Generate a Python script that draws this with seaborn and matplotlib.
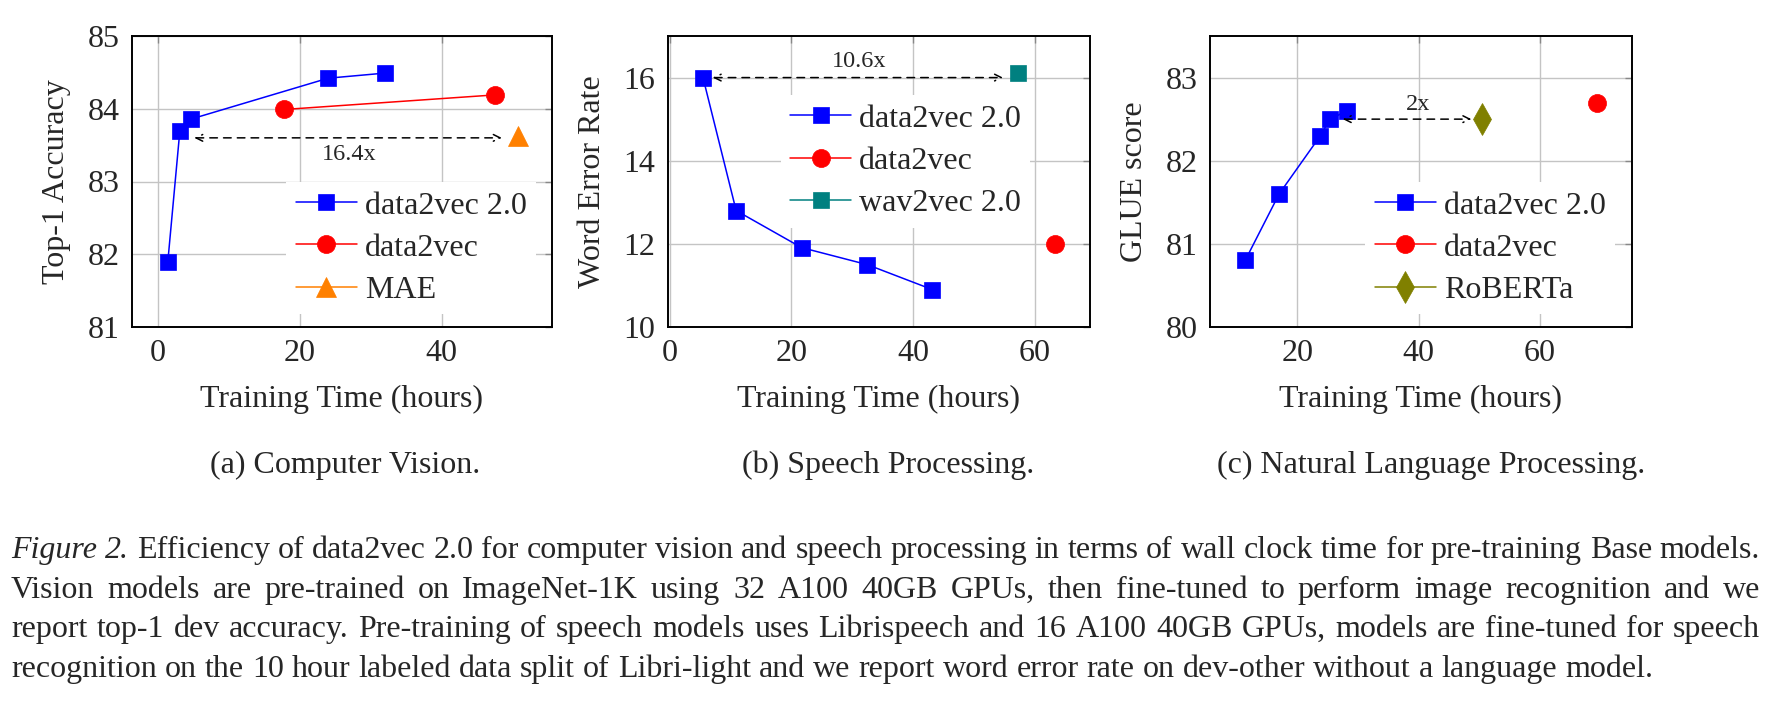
import numpy as np
import pandas as pd
import matplotlib.pyplot as plt
import seaborn as sns

# (a) computer vision: training hours vs top-1 accuracy
cv_d2v2_hours = [1.35, 3.05, 4.7, 24.0, 32.0]
cv_d2v2_acc = [81.89, 83.69, 83.86, 84.42, 84.49]
cv_d2v_hours = [17.8, 47.5]
cv_d2v_acc = [83.99, 84.19]
cv_mae_hours = [50.8]
cv_mae_acc = [83.63]

# (b) speech: training hours vs word error rate
sp_d2v2_hours = [5.5, 10.95, 21.7, 32.5, 43.2]
sp_d2v2_wer = [16.0, 12.8, 11.91, 11.5, 10.9]
sp_d2v_hours = [63.3]
sp_d2v_wer = [12.0]
sp_w2v_hours = [57.2]
sp_w2v_wer = [16.1]

# (c) NLP: training hours vs GLUE score
nlp_d2v2_hours = [11.4, 17.0, 23.8, 25.4, 28.2]
nlp_d2v2_glue = [80.8, 81.6, 82.3, 82.5, 82.6]
nlp_d2v_hours = [69.4]
nlp_d2v_glue = [82.7]
nlp_rob_hours = [50.5]
nlp_rob_glue = [82.5]

speedups = ["16.4x", "10.6x", "2x"]
subcaptions = ["(a) Computer Vision.", "(b) Speech Processing.",
               "(c) Natural Language Processing."]
caption_lines = [
    "Figure 2. Efficiency of data2vec 2.0 for computer vision and speech processing in terms of wall clock time for pre-training Base models.",
    "Vision models are pre-trained on ImageNet-1K using 32 A100 40GB GPUs, then fine-tuned to perform image recognition and we",
    "report top-1 dev accuracy. Pre-training of speech models uses Librispeech and 16 A100 40GB GPUs, models are fine-tuned for speech",
    "recognition on the 10 hour labeled data split of Libri-light and we report word error rate on dev-other without a language model.",
]

BLUE = "#0000ff"
RED = "#ff0000"
ORANGE = "#ff8000"
TEAL = "#008080"
OLIVE = "#808000"
FS = 23

sns.set_theme(style="whitegrid")
plt.rcParams["font.family"] = ["Liberation Serif", "DejaVu Serif"]

fig = plt.figure(figsize=(17.9, 7.09), dpi=100)
W, H = 1790, 709


def add_axes(left, right, top=36, bottom=327):
    return fig.add_axes([left / W, 1 - bottom / H, (right - left) / W, (bottom - top) / H])


def series(ax, x, y, label, color, marker, ms=12):
    sns.lineplot(x=x, y=y, ax=ax, label=label, color=color, marker=marker,
                 markersize=ms, markeredgecolor=color, markeredgewidth=0.5,
                 linewidth=1.1, estimator=None, sort=False)


def style(ax, xticks, yticks, xlim, ylim, ylabel):
    ax.set_xlim(*xlim)
    ax.set_ylim(*ylim)
    ax.set_xticks(xticks)
    ax.set_yticks(yticks)
    ax.grid(True, color="#c4c4c4", linewidth=1.0)
    for s in ax.spines.values():
        s.set_color("black")
        s.set_linewidth(1.4)
    ax.tick_params(axis="both", labelsize=FS, pad=9, direction="in",
                   length=5, width=1, color="#888888", top=True, right=True)
    ax.set_xlabel("Training Time (hours)", fontsize=FS, labelpad=12)
    ax.set_ylabel(ylabel, fontsize=FS, labelpad=12)


def legend(ax, cx, cy):
    ax.legend(loc="center", bbox_to_anchor=(cx, cy), fontsize=FS, frameon=True,
              facecolor="white", edgecolor="none", framealpha=1, handlelength=1.9,
              handletextpad=0.25, labelspacing=0.4, borderpad=0.3, fancybox=False)


def speedup(ax, x0, x1, y, text, tx, ty):
    ax.annotate("", xy=(x1, y), xytext=(x0, y),
                arrowprops=dict(arrowstyle="<->", linestyle=(0, (5, 4)),
                                color="black", lw=1.1, shrinkA=0, shrinkB=0))
    ax.text(tx, ty, text, fontsize=17.5, ha="center", va="center")


# (a)
ax1 = add_axes(132, 552)
series(ax1, cv_d2v2_hours, cv_d2v2_acc, "data2vec 2.0", BLUE, "s")
series(ax1, cv_d2v_hours, cv_d2v_acc, "data2vec", RED, "o", 13)
series(ax1, cv_mae_hours, cv_mae_acc, "MAE", ORANGE, "^", 14)
speedup(ax1, 5.1, 48.5, 83.6, speedups[0], 27.0, 83.37)
style(ax1, [0, 20, 40], [81, 82, 83, 84, 85], (-3.7, 55.6), (81, 85), "Top-1 Accuracy")
legend(ax1, 0.665, 0.2715)

# (b)
ax2 = add_axes(668, 1090)
series(ax2, sp_d2v2_hours, sp_d2v2_wer, "data2vec 2.0", BLUE, "s")
series(ax2, sp_d2v_hours, sp_d2v_wer, "data2vec", RED, "o", 13)
series(ax2, sp_w2v_hours, sp_w2v_wer, "wav2vec 2.0", TEAL, "s")
speedup(ax2, 7.1, 54.8, 16.0, speedups[1], 31.2, 16.38)
style(ax2, [0, 20, 40, 60], [10, 12, 14, 16], (-0.25, 69.1), (10, 17), "Word Error Rate")
legend(ax2, 0.563, 0.570)

# (c)
ax3 = add_axes(1210, 1632)
series(ax3, nlp_d2v2_hours, nlp_d2v2_glue, "data2vec 2.0", BLUE, "s")
series(ax3, nlp_d2v_hours, nlp_d2v_glue, "data2vec", RED, "o", 13)
series(ax3, nlp_rob_hours, nlp_rob_glue, "RoBERTa", OLIVE, "d", 16)
speedup(ax3, 27.5, 48.7, 82.5, speedups[2], 39.9, 82.68)
style(ax3, [20, 40, 60], [80, 81, 82, 83], (5.6, 75.2), (80, 83.5), "GLUE score")
legend(ax3, 0.664, 0.2715)

# sub-captions
for cx, txt in zip([345, 888, 1431], subcaptions):
    fig.text(cx / W, 1 - 465 / H, txt, fontsize=FS, ha="center", va="center")

# figure caption, justified like the paper (last line left ragged)
renderer = fig.canvas.get_renderer()
space = 0.25 * FS * 100 / 72
for i, (base, line) in enumerate(zip([558, 598, 637, 677], caption_lines)):
    words = line.split(" ")
    texts = []
    for j, w in enumerate(words):
        italic = i == 0 and j < 2
        texts.append(fig.text(0, 1 - base / H, w, fontsize=FS, va="baseline",
                              style="italic" if italic else "normal"))
    widths = [t.get_window_extent(renderer).width for t in texts]
    if i < len(caption_lines) - 1:
        gap = (1760 - 11 - sum(widths)) / (len(words) - 1)
    else:
        gap = space
    x = 11
    for t, w in zip(texts, widths):
        t.set_x(x / W)
        x += w + gap

fig.savefig("out.png", dpi=100, facecolor="white")
